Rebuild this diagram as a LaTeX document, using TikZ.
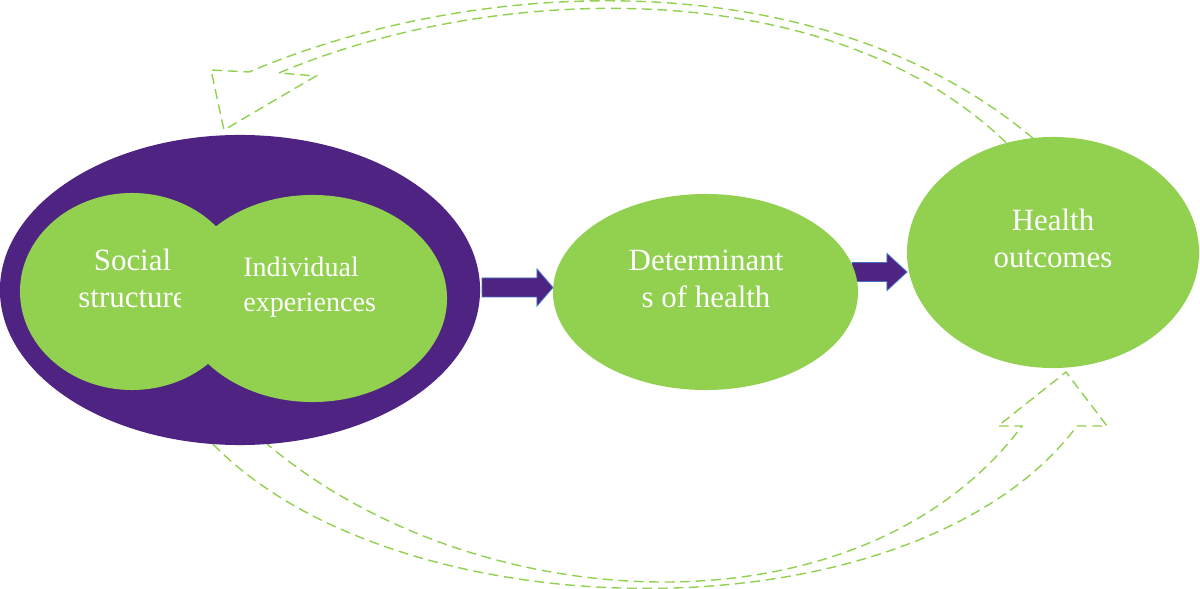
\documentclass[tikz,border=0pt]{standalone}
\usepackage{fontspec}
\setmainfont{Liberation Serif}
\usetikzlibrary{shapes.geometric,calc,backgrounds}

\definecolor{leaf}{RGB}{146,208,80}
\definecolor{plum}{RGB}{79,35,130}
\definecolor{edgeblue}{RGB}{68,114,196}

\tikzset{
  blob/.style={ellipse, fill=leaf, draw=none, inner sep=0pt, outer sep=0pt},
  lbl/.style={text=white, font=\fontsize{22}{27}\selectfont, inner sep=0pt, anchor=base},
  blockarrow/.style={fill=plum, draw=edgeblue, line width=0.6pt, line join=miter},
  loopband/.style={draw=leaf, line width=1pt, dash pattern=on 7pt off 4pt},
}

% block arrow, #1 start, #2 tip (same level), #3 head length
\newcommand{\fatarrow}[3]{%
  \draw[blockarrow] ($(#1)+(0,-9.5)$) -- ($(#2)+(-#3,-9.5)$) -- ($(#2)+(-#3,-18.5)$)
    -- (#2) -- ($(#2)+(-#3,18.5)$) -- ($(#2)+(-#3,9.5)$) -- ($(#1)+(0,9.5)$) -- cycle;}

\begin{document}
\begin{tikzpicture}[x=0.025cm, y=-0.025cm]
\useasboundingbox (0,0) rectangle (1200,589);

% ellipses
\node[blob, fill=plum, minimum width=12cm, minimum height=7.75cm] (outer) at (240,290) {};
\node[blob, minimum width=5.6cm, minimum height=4.925cm] (social) at (132,291.5) {};
\node[blob, minimum width=6.725cm, minimum height=5.175cm] (indiv) at (312.5,298.5) {};
\node[blob, minimum width=7.625cm, minimum height=4.9cm] (det) at (705.5,292) {};
\node[blob, minimum width=7.3cm, minimum height=5.775cm] (health) at (1053,252.5) {};

% texts (base = last line)
\begin{scope}
  \clip (20,190) rectangle (180,400);
  \node[lbl, align=center] (social-txt) at (132.5,308) {Social\\structure};
\end{scope}
\node[lbl, align=left, anchor=base west, font=\fontsize{20}{24.5}\selectfont] (indiv-txt) at (243,311) {Individual\\experiences};
\node[lbl, align=center] (det-txt) at (706,308) {Determinant\\s of health};
\node[lbl, align=center] (health-txt) at (1053,268) {Health\\outcomes};

\begin{scope}[on background layer]
  % forward arrows
  \coordinate (a1s) at ($(outer.east)+(2,-2.5)$);
  \coordinate (a1t) at (a1s -| det.west);
  \fatarrow{a1s}{a1t}{16}
  \coordinate (a2s) at ($(det.east)+(-6,-20)$);
  \coordinate (a2t) at (a2s -| health.west);
  \fatarrow{a2s}{a2t}{20}
  % feedback loops
  \draw[loopband] (health.100) .. controls (820,-40) and (479,-25.5) .. (249,72)
    -- (211,70) -- (224,130) -- (316,76) -- (279,73)
    .. controls (486,-15) and (825,-32) .. (health.113);
  \draw[loopband] (outer.260) .. controls (401,637) and (915,642) .. (1077,426)
    -- (1107,426) -- (1066,372) -- (998,426) -- (1022,426)
    .. controls (860,642) and (475,620) .. (outer.280);
\end{scope}
\end{tikzpicture}
\end{document}
